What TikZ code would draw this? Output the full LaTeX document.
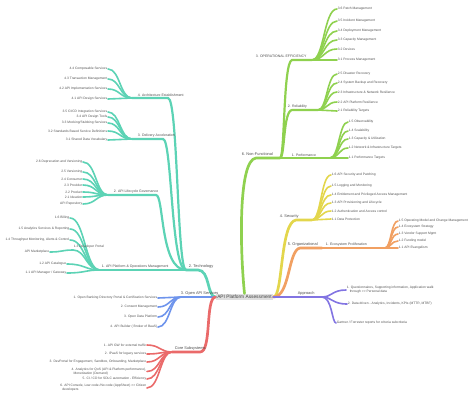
\documentclass[tikz,border=0pt]{standalone}
\usepackage{fontspec}
\setmainfont{Liberation Sans}

\definecolor{techcol}{HTML}{5CD3B5}
\definecolor{opencol}{HTML}{6E94EC}
\definecolor{corecol}{HTML}{EA6A6A}
\definecolor{nfcol}{HTML}{8FD14F}
\definecolor{seccol}{HTML}{E3D64C}
\definecolor{orgcol}{HTML}{F1A062}
\definecolor{appcol}{HTML}{8274E2}

\begin{document}
\begin{tikzpicture}[x=1pt, y=-1pt,
    leaf/.style={font=\fontsize{3.3}{3.8}\selectfont, text=black!68, inner sep=0.6pt, align=left},
    leafl/.style={leaf, anchor=east},
    leafr/.style={leaf, anchor=west},
    topic/.style={font=\fontsize{3.5}{4}\selectfont, text=black!70, inner sep=0.6pt, anchor=south west},
    main/.style={font=\fontsize{3.9}{4.4}\selectfont, text=black!70, inner sep=0.6pt, anchor=south west},
    twig/.style={line width=1.6pt, line cap=round},
    bough/.style={line width=2.2pt, line cap=round},
    trunk/.style={line width=2.7pt, line cap=round}]
\useasboundingbox (0,0) rectangle (474,402);

\node[fill=gray!25, text=black!75, font=\fontsize{4.8}{5.2}\selectfont, inner sep=1.6pt] (root) at (244.5,297) {API Platform Assessment};

% technology
\coordinate (jtech) at (186,270);
\draw[trunk, techcol] (root.west) .. controls (207,297) and (210,270) .. (198,270) -- (jtech);
\node[main] (tech) at (188,269) {2. Technology};

\coordinate (jarch) at (132,98);
\draw[bough, techcol] (jtech) .. controls (177,270) and (178,98) .. (168,98) -- (jarch);
\node[topic] (arch) at (137,97) {4. Architecture Establishment};
\foreach \y/\txt [count=\i] in {69/{4.4 Composable Services}, 79/{4.3 Transaction Management}, 89/{4.2 API Implementation Services}, 99/{4.1 API Design Services}} {
  \node[leafl] (arch\i) at (108,\y) {\txt};
  \draw[twig, techcol] (arch\i.east) .. controls (120,\y) and (120,98) .. (jarch);
}

\coordinate (jdel) at (132,139);
\draw[bough, techcol] (jtech) .. controls (171,270) and (172,139) .. (163,139) -- (jdel);
\node[topic] (del) at (137,138) {3. Delivery Acceleration};
\foreach \y/\txt [count=\i] in {112/{3.5 CI/CD Integration Services}, 117/{3.4 API Design Tools}, 123/{3.3 Mocking/Stubbing Services}, 131/{3.2 Standards Based Service Definitions}, 140/{3.1 Shared Data Vocabulary}} {
  \node[leafl] (del\i) at (108,\y) {\txt};
  \draw[twig, techcol] (del\i.east) .. controls (120,\y) and (120,139) .. (jdel);
}

\coordinate (jlife) at (108,195);
\draw[bough, techcol] (jtech) .. controls (160,270) and (164,195) .. (156,195) -- (jlife);
\node[topic] (life) at (113,194) {2. API Lifecycle Governance};
\foreach \y/\txt [count=\i] in {162/{2.6 Deprecation and Versioning}, 172/{2.5 Versioning}, 179/{2.4 Consumer}, 185/{2.3 Provider}, 192/{2.2 Product}, 197/{2.1 Ideation}, 204/{API Repository}} {
  \node[leafl] (life\i) at (83,\y) {\txt};
  \draw[twig, techcol] (life\i.east) .. controls (96,\y) and (96,195) .. (jlife);
}

\coordinate (jplat) at (100,270);
\draw[bough, techcol] (jtech) -- (jplat);
\node[topic] (plat) at (101,269) {1. API Platform \& Operations Management};
\foreach \x/\y/\txt [count=\i] in {70/218/{1.6 Billing}, 70/229/{1.5 Analytics Services \& Reporting}, 70/240/{1.4 Throughput Monitoring, Alerts \& Control}, 67/264/{1.2 API Catalogue}, 67/273/{1.1 API Manager / Gateway}} {
  \node[leafl] (plat\i) at (\x,\y) {\txt};
  \draw[twig, techcol] (plat\i.east) .. controls (85,\y) and (85,270) .. (jplat);
}
\coordinate (jdev) at (73,250);
\draw[twig, techcol] (jdev) .. controls (86,250) and (86,270) .. (jplat);
\node[leaf, anchor=south west] (dev) at (73,249) {1.3 Developer Portal};
\node[leafl] (mkt) at (50,252) {API Marketplace};
\draw[twig, techcol] (mkt.east) .. controls (62,252) and (62,250) .. (jdev);

% open api services
\coordinate (jopen) at (181,297);
\draw[trunk, opencol] (root.west) -- (jopen);
\node[main] (open) at (180,296) {3. Open API Services};
\foreach \y/\txt [count=\i] in {298/{1. Open Banking Directory Portal \& Certification Services}, 307/{2. Consent Management}, 317/{3. Open Data Platform}, 327/{4. API Builder ( Broker of BaaS)}} {
  \node[leafl] (open\i) at (158,\y) {\txt};
  \draw[twig, opencol] (open\i.east) .. controls (170,\y) and (170,297) .. (jopen);
}

% core subsystems
\coordinate (jcore) at (172,352);
\draw[trunk, corecol] (root.west) .. controls (205,298) and (212,352) .. (200,352) -- (jcore);
\node[main] (core) at (174,351) {Core Subsystems};
\foreach \y/\txt [count=\i] in {345/{1. API GW for external traffic}, 354/{2. IPaaS for legacy services}, 362/{3. DevPortal for Engagement, Sandbox, Onboarding, Marketplace}, 371.5/{4. Analytics for QoS (API \& Platform performance),\\ \hspace{2pt}Monetization (Demand)}, 379/{5. CI / CD for SDLC automation - Efficiency}, 388/{6. API Console, Low code /No code (AppSheet) >{}> Citizen\\ \hspace{2pt}developers}} {
  \node[leafl] (core\i) at (147,\y) {\txt};
  \draw[twig, corecol] (core\i.east) .. controls (160,\y) and (160,352) .. (jcore);
}

% non-functional
\coordinate (jnf) at (280,158);
\draw[trunk, nfcol] (root.north) .. controls (240,250) and (238,160) .. (256,158) -- (jnf);
\node[main] (nf) at (241,156) {6. Non-Functional};

\coordinate (jperf) at (330,158);
\draw[bough, nfcol] (jnf) -- (jperf);
\node[topic] (perf) at (291,157) {1. Performance};
\foreach \y/\txt [count=\i] in {122/{1.5 Observability}, 131/{1.4 Scalability}, 139/{1.3 Capacity \& Utilization}, 148/{1.2 Network \& Infrastructure Targets}, 158/{1.1 Performance Targets}} {
  \node[leafr] (perf\i) at (348,\y) {\txt};
  \draw[twig, nfcol] (jperf) .. controls (339,158) and (339,\y) .. (perf\i.west);
}

\coordinate (jrel) at (318,110);
\draw[bough, nfcol] (jnf) .. controls (285,158) and (283,111) .. (292,110) -- (jrel);
\node[topic] (rel) at (287,109) {2. Reliability};
\foreach \y/\txt [count=\i] in {74/{2.5 Disaster Recovery}, 83/{2.4 System Backup and Recovery}, 92/{2.3 Infrastructure \& Network Resilience}, 102/{2.2 API Platform Resilience}, 111/{2.1 Reliability Targets}} {
  \node[leafr] (rel\i) at (337,\y) {\txt};
  \draw[twig, nfcol] (jrel) .. controls (327,110) and (327,\y) .. (rel\i.west);
}

\coordinate (jops) at (312,60);
\draw[bough, nfcol] (jnf) .. controls (285,158) and (283,62) .. (292,60) -- (jops);
\node[topic] (ops) at (255,58) {3. OPERATIONAL EFFICIENCY};
\foreach \y/\txt [count=\i] in {9/{3.6 Patch Management}, 21/{3.5 Incident Management}, 31/{3.4 Deployment Management}, 40/{3.3 Capacity Management}, 49/{3.2 Devices}, 60/{3.1 Process Management}} {
  \node[leafr] (ops\i) at (337,\y) {\txt};
  \draw[twig, nfcol] (jops) .. controls (324,60) and (324,\y) .. (ops\i.west);
}

% security
\coordinate (jsec) at (312,220);
\draw[trunk, seccol] (root.east) .. controls (283,297) and (280,222) .. (296,220) -- (jsec);
\node[main] (sec) at (279,219) {4. Security};
\foreach \y/\txt [count=\i] in {175/{1.6 API Security and Patching}, 186/{1.5 Logging and Monitoring}, 195/{1.4 Entitlement and Privileged Access Management}, 203/{1.3 API Provisioning and Lifecycle}, 211/{1.2 Authentication and Access control}, 219/{1.1 Data Protection}} {
  \node[leafr] (sec\i) at (331,\y) {\txt};
  \draw[twig, seccol] (jsec) .. controls (321,220) and (321,\y) .. (sec\i.west);
}

% organizational
\coordinate (jorg) at (322,248);
\draw[trunk, orgcol] (root.east) .. controls (290,297) and (288,250) .. (300,248) -- (jorg);
\node[main] (org) at (287,247) {5. Organizational};
\coordinate (jeco) at (385,248);
\draw[bough, orgcol] (jorg) -- (jeco);
\node[topic] (eco) at (325,247) {1. Ecosystem Proliferation};
\foreach \y/\txt [count=\i] in {221/{1.5 Operating Model and Change Management}, 227/{1.4 Ecosystem Strategy}, 234/{1.3 Vendor Support Mgmt}, 241/{1.2 Funding model}, 248/{1.1 API Evangelism}} {
  \node[leafr] (eco\i) at (398,\y) {\txt};
  \draw[twig, orgcol] (jeco) .. controls (391,248) and (391,\y) .. (eco\i.west);
}

% approach
\coordinate (japp) at (322,297);
\draw[trunk, appcol] (root.east) -- (japp);
\node[main] (app) at (297,296) {Approach};
\foreach \x/\y/\txt [count=\i] in {346/290/{1. Questionnaires, Supporting information, Application walk\\ \hspace{3pt}through >{}> Personal data}, 347/304/{2. Data driven - Analytics, Incidents, KPIs (MTTR, MTBF)}, 336/323/{Gartner / Forrester reports for criteria subcriteria}} {
  \node[leafr] (app\i) at (\x,\y) {\txt};
  \draw[twig, appcol] (japp) .. controls (332,297) and (332,\y) .. (app\i.west);
}
\end{tikzpicture}
\end{document}
